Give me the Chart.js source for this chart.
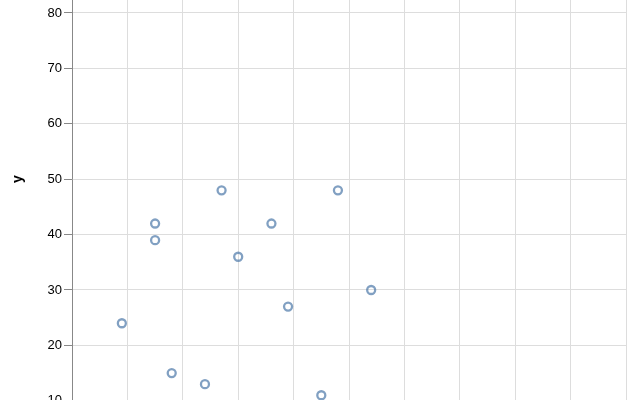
<!DOCTYPE html>
<html>
<head>
<meta charset="utf-8">
<script src="https://cdn.jsdelivr.net/npm/chart.js@4/dist/chart.umd.min.js"></script>
<style>
  html, body { margin: 0; padding: 0; background: #fff; overflow: hidden; }
  #wrap { position: absolute; left: 0; top: -120px; width: 760px; height: 660px; }
</style>
</head>
<body>
<div id="wrap"><canvas id="scatterChart" width="760" height="660"></canvas></div>
<script>
// x and y of each point
const xValues = [9, 15, 15, 18, 24, 27, 30, 36, 39, 45, 48, 54];
const yValues = [24, 42, 39, 15, 13, 48, 36, 42, 27, 11, 48, 30];
const yTicks = [0, 10, 20, 30, 40, 50, 60, 70, 80, 90, 100];

document.addEventListener("DOMContentLoaded", function() {
    const ctx = document.getElementById('scatterChart').getContext('2d');

    const points = xValues.map(function(x, i) { return { x: x, y: yValues[i] }; });

    new Chart(ctx, {
        type: 'scatter',
        data: {
            datasets: [{
                data: points,
                backgroundColor: 'rgba(0,0,0,0)',
                borderColor: 'rgba(76, 120, 168, 0.7)',
                borderWidth: 2.3,
                pointRadius: 4,
                pointHoverRadius: 4
            }]
        },
        options: {
            responsive: false,
            animation: false,
            clip: false,
            layout: { padding: { left: 0, top: 22.2, right: 134, bottom: 0 } },
            plugins: { legend: { display: false }, tooltip: { enabled: false } },
            scales: {
                x: {
                    type: 'linear',
                    min: 0,
                    max: 100,
                    ticks: { stepSize: 10, color: '#000', font: { family: 'Liberation Sans', size: 13 } },
                    grid: { color: '#dddddd', tickColor: '#888888', tickLength: 8 },
                    border: { color: '#888888' },
                    title: { display: true, text: 'x', color: '#000', font: { family: 'Liberation Sans', size: 14, weight: 'bold' } },
                    afterFit: function(scale) { scale.height = 83.8; }
                },
                y: {
                    type: 'linear',
                    min: 0,
                    max: 100,
                    afterBuildTicks: function(scale) {
                        scale.ticks = yTicks.map(function(v) { return { value: v }; });
                    },
                    ticks: { color: '#000', padding: 2, font: { family: 'Liberation Sans', size: 13 } },
                    grid: { color: '#dddddd', tickColor: '#888888', tickLength: 8 },
                    border: { color: '#888888' },
                    title: { display: true, text: 'y', color: '#000', padding: { top: 10, bottom: 4 }, font: { family: 'Liberation Sans', size: 14, weight: 'bold' } },
                    afterFit: function(scale) { scale.width = 72; }
                }
            }
        }
    });
});
</script>
</body>
</html>
